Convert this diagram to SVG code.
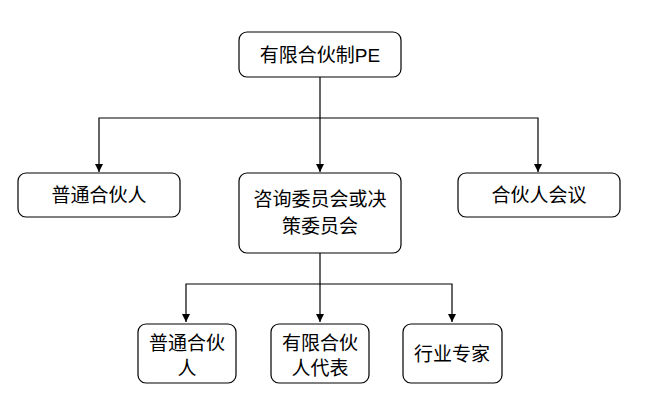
<svg xmlns="http://www.w3.org/2000/svg" width="645" height="404" viewBox="0 0 645 404">
<style>
.box{fill:#fff;stroke:#000;stroke-width:1.2}
.t{font-family:"Liberation Sans","Noto Sans CJK SC",sans-serif;font-size:19px;fill:#000;text-anchor:middle}
.c{fill:none;stroke:#000;stroke-width:1.2}
</style>
<defs>
<marker id="a" viewBox="0 0 10 10" refX="10" refY="5" markerWidth="8" markerHeight="8" markerUnits="userSpaceOnUse" orient="auto">
<path d="M0,0 L10,5 L0,10 z" fill="#000"/>
</marker>
</defs>
<rect width="645" height="404" fill="#fff"/>
<g id="connectors">
<path class="c" d="M320,77 V118 H99 V172" marker-end="url(#a)"/>
<path class="c" d="M320,118 V172" marker-end="url(#a)"/>
<path class="c" d="M320,118 H538 V172" marker-end="url(#a)"/>
<path class="c" d="M320,253 V284 H186 V322" marker-end="url(#a)"/>
<path class="c" d="M320,284 V322" marker-end="url(#a)"/>
<path class="c" d="M320,284 H452 V322" marker-end="url(#a)"/>
</g>
<g id="n1"><rect class="box" x="239" y="32" width="162" height="45" rx="8"/><text class="t" x="320" y="61.5">有限合伙制PE</text></g>
<g id="n2"><rect class="box" x="18" y="173" width="162" height="44" rx="8"/><text class="t" x="99" y="202">普通合伙人</text></g>
<g id="n3"><rect class="box" x="239" y="173" width="162" height="80" rx="8"/><text class="t" x="320" y="205.5">咨询委员会或决</text><text class="t" x="320" y="232.5">策委员会</text></g>
<g id="n4"><rect class="box" x="458" y="173" width="162" height="44" rx="8"/><text class="t" x="539" y="202">合伙人会议</text></g>
<g id="n5"><rect class="box" x="138" y="324" width="98" height="59" rx="8"/><text class="t" x="187" y="350">普通合伙</text><text class="t" x="187" y="375">人</text></g>
<g id="n6"><rect class="box" x="271" y="324" width="98" height="59" rx="8"/><text class="t" x="320" y="350">有限合伙</text><text class="t" x="320" y="375">人代表</text></g>
<g id="n7"><rect class="box" x="403" y="324" width="99" height="59" rx="8"/><text class="t" x="452" y="360.5">行业专家</text></g>
</svg>
